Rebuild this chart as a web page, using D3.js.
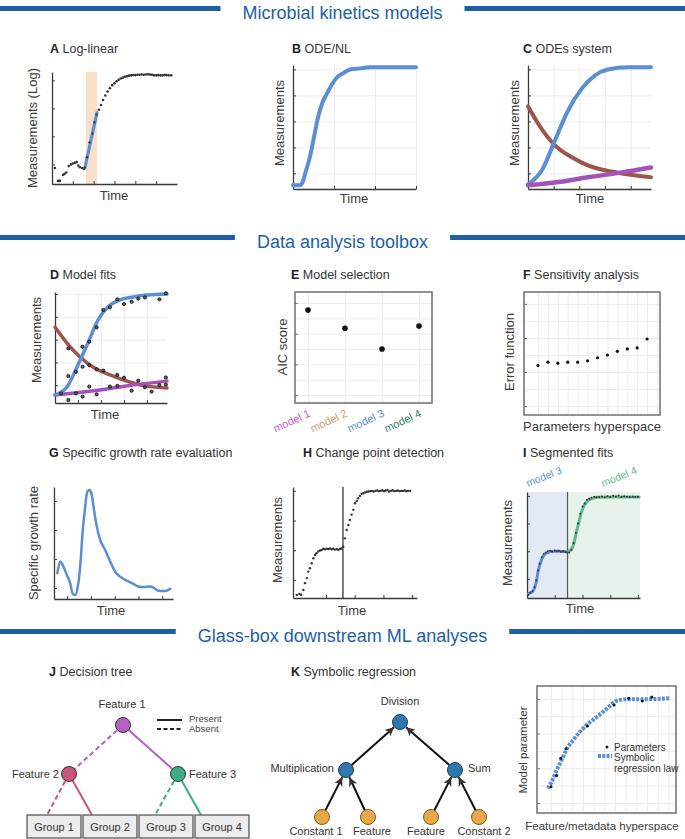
<!DOCTYPE html>
<html><head><meta charset="utf-8">
<script src="https://cdn.jsdelivr.net/npm/d3@7"></script>
<style>
body{margin:0;background:#fff}
svg{display:block}
text{font-family:"Liberation Sans",Arial,Helvetica,sans-serif}
</style>
</head><body>
<svg id="c" width="685" height="839"></svg>
<script>
// ---------------- DATA ----------------
const headerTitles = ["Microbial kinetics models", "Data analysis toolbox", "Glass-box downstream ML analyses"];

// A: log-linear (x = time, y = log measurement)
const A_points = [[0.14,-0.13],[0.29,-0.59],[0.38,-0.59],[0.53,-0.38],[0.6,-0.34],[0.69,-0.29],[0.8,-0.06],[0.91,0.0],[1.0,0.03],[1.1,0.06],[1.18,0.08],[1.26,-0.04],[1.34,-0.1],[1.45,-0.13],[1.53,-0.16],[1.58,-0.12],[1.68,0.25],[1.81,0.78],[1.94,1.1],[2.04,1.5],[2.14,1.78],[2.25,1.95],[2.35,2.12],[2.45,2.3],[2.56,2.46],[2.67,2.6],[2.78,2.72],[2.89,2.83],[3.0,2.9],[3.1,2.97],[3.2,3.02],[3.3,3.07],[3.4,3.1],[3.5,3.13],[3.6,3.15],[3.7,3.17],[3.8,3.18],[3.9,3.19],[4.0,3.19],[4.1,3.2],[4.2,3.2],[4.3,3.21],[4.4,3.2],[4.5,3.21],[4.6,3.22],[4.7,3.21],[4.8,3.2],[4.9,3.18],[5.0,3.18],[5.1,3.19],[5.2,3.18],[5.3,3.18],[5.4,3.19],[5.5,3.19],[5.6,3.18],[5.72,3.18]];
const A_fit = [[1.58,-0.12],[2.16,1.85]];
const A_window = [1.63, 2.16];

// B: ODE/NL growth curve
const B_time = [0,0.17,0.22,0.32,0.41,0.51,0.61,0.71,0.83,0.95,1.07,1.22,1.39,1.63,1.88,2.37,3];
const B_value = [0.54,0.54,0.62,1.12,1.62,2.38,3.15,3.69,4.08,4.42,4.69,4.85,5.0,5.04,5.08,5.08,5.08];

// C: ODE system (three species)
const C_blue = [[0,0.58],[0.54,1.12],[1.05,2.27],[1.56,3.42],[2.1,4.27],[2.61,4.77],[3.11,5.0],[3.89,5.08],[4.79,5.08]];
const C_brown = [[0,3.58],[0.39,2.92],[1.05,2.08],[1.71,1.62],[2.33,1.31],[2.99,1.12],[3.66,1.0],[4.79,0.85]];
const C_purple = [[0,0.54],[1.05,0.65],[2.33,0.85],[3.66,1.04],[4.79,1.23]];

// D: model fits
const D_blueFit = [[0,0.57],[0.52,0.92],[1.0,1.89],[1.43,2.85],[1.87,3.86],[2.3,4.43],[2.83,4.74],[3.39,4.87],[4.0,4.96],[4.87,5.0]];
const D_brownFit = [[0,3.55],[0.52,2.85],[1.09,2.24],[1.65,1.8],[2.39,1.45],[3.39,1.1],[4.0,0.96],[4.87,0.88]];
const D_purpleFit = [[0,0.57],[1.96,0.79],[3.39,1.01],[4.87,1.18]];
const D_blueObs = [[0.26,0.64],[0.58,1.4],[0.91,1.59],[1.19,2.69],[1.49,2.91],[1.81,3.54],[2.1,4.3],[2.39,4.42],[2.71,4.77],[3.0,4.56],[3.33,4.66],[3.62,4.8],[3.91,4.85],[4.54,4.77],[4.82,5.03]];
const D_brownObs = [[0.58,2.62],[1.2,1.81],[1.49,1.88],[1.81,1.7],[2.1,1.64],[2.71,1.45],[3.0,1.33],[3.62,1.2],[3.91,0.91]];
const D_purpleObs = [[0.58,0.35],[0.91,0.64],[1.2,0.5],[1.49,0.94],[1.81,0.6],[2.39,0.94],[2.71,0.97],[3.33,0.76],[4.2,0.72],[4.54,1.01],[4.82,1.34],[4.82,1.03]];

// E: model selection
const E_models = ["model 1","model 2","model 3","model 4"];
const E_aic = [3.77, 3.18, 2.5, 3.25];
const E_colors = ["#c45cc6","#c9a070","#5b8fd4","#2e7b6b"];

// F: sensitivity analysis
const F_param = [1,2,3,4,5,6,7,8,9,10,11,12];
const F_error = [2.19,2.29,2.26,2.29,2.29,2.33,2.42,2.5,2.61,2.68,2.71,2.97];

// G: specific growth rate
const G_time = [0.59,0.71,0.85,0.99,1.13,1.24,1.34,1.45,1.55,1.66,1.76,1.85,1.94,2.04,2.13,2.25,2.39,2.6,2.81,3.02,3.23,3.51,3.79,4.0,4.21,4.49,4.63,4.77,4.91,5.12,5.33];
const G_rate = [1.51,1.91,1.73,1.45,1.16,0.79,0.76,1.05,1.73,3.0,3.8,4.32,4.38,4.21,3.69,3.11,2.66,2.31,1.91,1.56,1.39,1.25,1.14,1.05,1.03,1.05,1.01,0.93,0.9,0.9,0.97];

// H: change point detection
const H_points = [[-0.02,0.49],[0.07,0.53],[0.13,0.5],[0.21,0.66],[0.27,0.89],[0.33,1.06],[0.38,1.28],[0.44,1.39],[0.5,1.56],[0.56,1.73],[0.62,1.84],[0.67,1.9],[0.73,1.96],[0.79,1.99],[0.85,2.01],[0.91,2.05],[0.96,2.03],[1.02,2.05],[1.08,2.04],[1.14,2.06],[1.2,2.03],[1.25,2.05],[1.31,2.02],[1.37,2.04],[1.43,2.01],[1.49,2.05],[1.54,2.06],[1.6,2.12],[1.66,2.4],[1.72,2.68],[1.78,2.85],[1.83,3.02],[1.89,3.2],[1.95,3.36],[2.01,3.58],[2.07,3.66],[2.12,3.75],[2.18,3.83],[2.24,3.9],[2.3,3.92],[2.36,3.95],[2.42,3.97],[2.48,3.98],[2.54,3.99],[2.6,4.0],[2.66,3.98],[2.72,4.0],[2.78,4.01],[2.84,3.99],[2.9,4.0],[2.96,4.02],[3.02,3.99],[3.08,4.01],[3.14,4.03],[3.2,3.98],[3.26,4.0],[3.32,4.02],[3.38,3.99],[3.44,4.0],[3.5,4.01],[3.56,3.99],[3.62,4.0],[3.68,4.0],[3.74,4.01],[3.8,3.99],[3.86,4.0],[3.93,4.0]];
const H_changePoint = 1.59;

// I: segmented fits
const I_seg1Fit = [[0.05,0.46],[0.14,0.51],[0.23,0.58],[0.29,0.72],[0.35,0.97],[0.4,1.27],[0.46,1.51],[0.55,1.75],[0.64,1.89],[0.76,1.96],[0.88,1.99],[1.12,2.0],[1.46,1.98]];
const I_seg2Fit = [[1.46,1.98],[1.6,2.07],[1.69,2.29],[1.77,2.65],[1.86,3.01],[1.95,3.37],[2.07,3.67],[2.19,3.83],[2.37,3.91],[2.55,3.95],[2.9,3.96],[3.38,3.96],[4.04,3.96]];
const I_seg1Obs = [[0.05,0.42],[0.12,0.5],[0.2,0.55],[0.27,0.7],[0.33,0.95],[0.4,1.3],[0.46,1.55],[0.53,1.78],[0.6,1.9],[0.68,1.95],[0.75,2.0],[0.83,2.02],[0.9,1.99],[1.0,2.03],[1.08,2.0],[1.15,2.02],[1.22,1.98],[1.3,2.0],[1.38,1.97],[1.45,1.95]];
const I_seg2Obs = [[1.52,1.95],[1.6,2.05],[1.68,2.3],[1.76,2.66],[1.84,3.0],[1.92,3.35],[2.0,3.62],[2.08,3.72],[2.16,3.86],[2.24,3.9],[2.32,3.93],[2.42,3.97],[2.5,3.95],[2.6,3.96],[2.7,3.98],[2.8,3.95],[2.9,3.99],[3.0,3.96],[3.1,4.0],[3.2,3.98],[3.3,4.01],[3.4,3.96],[3.5,3.99],[3.6,3.97],[3.7,3.96],[3.8,3.97],[3.9,3.96],[4.0,3.97]];
const I_split = 1.46;
const I_labels = ["model 3","model 4"];

// J: decision tree
const J_features = ["Feature 1","Feature 2","Feature 3"];
const J_groups = ["Group 1","Group 2","Group 3","Group 4"];
const J_legend = ["Present","Absent"];

// K: symbolic regression
const K_operators = ["Division","Multiplication","Sum"];
const K_leaves = ["Constant 1","Feature","Feature","Constant 2"];

// L: symbolic regression law
const L_lawX = [-0.3,0.07,0.54,1.01,1.48,2.1,2.72,3.35,4.13,4.9,5.53,5.84,6.46,7.4,8.96,11.14];
const L_lawY = [0.42,0.61,0.95,1.24,1.55,1.82,2.05,2.25,2.44,2.63,2.8,2.89,2.97,2.99,2.99,3.02];
const L_paramX = [0.01,0.54,0.92,1.41,3.41,5.9,7.28,8.55,9.43];
const L_paramY = [0.47,0.79,1.29,1.56,2.22,2.82,3.02,2.94,3.05];
const L_legend = ["Parameters","Symbolic","regression law"];

// ---------------- DRAWING ----------------
const svg = d3.select("#c");
const BLUE = "#5b8fd4", BROWN = "#9c544b", PURPLE = "#a552b8", GREEN = "#5db98c";
const AX = "#3a3a3a";

function header(title, baseline) {
  const t = svg.append("text").attr("x", 342.5).attr("y", baseline).attr("text-anchor", "middle")
    .attr("font-size", 18).attr("fill", "#1d5fa6").text(title);
  const w = t.node().getComputedTextLength();
  const gap = 22;
  svg.append("rect").attr("x", 0).attr("y", baseline - 13).attr("width", 342.5 - w/2 - gap).attr("height", 5).attr("fill", "#1d5fa6");
  svg.append("rect").attr("x", 342.5 + w/2 + gap).attr("y", baseline - 13).attr("width", 685 - (342.5 + w/2 + gap)).attr("height", 5).attr("fill", "#1d5fa6");
}
header(headerTitles[0], 19);
header(headerTitles[1], 248);
header(headerTitles[2], 642);

function title(x, y, letter, txt) {
  const t = svg.append("text").attr("x", x).attr("y", y).attr("font-size", 12.5).attr("fill", "#222");
  t.append("tspan").attr("font-weight", "bold").text(letter);
  t.append("tspan").attr("fill", "#333").text(" " + txt);
}
function xlabel(cx, y, txt, size) {
  svg.append("text").attr("x", cx).attr("y", y).attr("text-anchor", "middle").attr("font-size", size || 13).attr("fill", "#3a3a3a").text(txt);
}
function ylabel(x, cy, txt, size) {
  svg.append("text").attr("transform", `translate(${x},${cy}) rotate(-90)`).attr("text-anchor", "middle")
    .attr("font-size", size || 13).attr("fill", "#3a3a3a").text(txt);
}

function panel(o) {
  const g = svg.append("g");
  const x = o.x || d3.scaleLinear().domain(o.xd).range([o.l, o.r]);
  const y = d3.scaleLinear().domain(o.yd).range([o.b, o.t]);
  const gridStyle = (s, c) => { s.select(".domain").remove(); s.selectAll("line").attr("stroke", c).attr("stroke-width", 1); };
  if (o.gridX) g.append("g").attr("transform", `translate(0,${o.b})`)
    .call(d3.axisBottom(x).tickValues(o.gridX).tickSize(-(o.b - o.t)).tickFormat(""))
    .call(s => gridStyle(s, o.gridColor || "#ececec"));
  if (o.gridY) g.append("g").attr("transform", `translate(${o.l},0)`)
    .call(d3.axisLeft(y).tickValues(o.gridY).tickSize(-(o.r - o.l)).tickFormat(""))
    .call(s => gridStyle(s, o.gridColor || "#ececec"));
  if (o.bg) o.bg(g, x, y);
  if (o.box) {
    g.append("rect").attr("x", o.l).attr("y", o.t).attr("width", o.r - o.l).attr("height", o.b - o.t)
      .attr("fill", "none").attr("stroke", "#6e6e6e").attr("stroke-width", 1.5);
    g.append("g").attr("transform", `translate(${o.l},0)`)
      .call(d3.axisLeft(y).tickValues(o.yt).tickSize(-3).tickFormat(""))
      .call(s => { s.select(".domain").remove(); s.selectAll("line").attr("stroke", "#777"); });
  } else {
    const ax = (s) => { s.select(".domain").attr("stroke", AX).attr("stroke-width", 1.3); s.selectAll("line").attr("stroke", AX).attr("stroke-width", 1); };
    g.append("g").attr("transform", `translate(0,${o.b})`)
      .call(d3.axisBottom(x).tickValues(o.xt).tickSize(-3).tickSizeOuter(0).tickFormat("")).call(ax);
    g.append("g").attr("transform", `translate(${o.l},0)`)
      .call(d3.axisLeft(y).tickValues(o.yt).tickSize(-3).tickSizeOuter(0).tickFormat("")).call(ax);
  }
  return { g, x, y };
}
function curve(p, data, color, w, dash) {
  const line = d3.line().x(d => p.x(d[0])).y(d => p.y(d[1])).curve(d3.curveMonotoneX);
  const path = p.g.append("path").datum(data).attr("d", line).attr("fill", "none").attr("stroke", color)
    .attr("stroke-width", w).attr("stroke-linecap", "round").attr("stroke-linejoin", "round");
  if (dash) path.attr("stroke-dasharray", dash).attr("stroke-linecap", "butt");
  return path;
}
function dots(p, data, r, color, stroke) {
  p.g.append("g").selectAll("circle").data(data).join("circle")
    .attr("cx", d => p.x(d[0])).attr("cy", d => p.y(d[1])).attr("r", r)
    .attr("fill", color).attr("stroke", stroke || "none").attr("stroke-width", 0.8);
}

// ---- A ----
title(50, 53, "A", "Log-linear");
const pA = panel({ l: 52, r: 177, t: 72, b: 184, xd: [0, 6], yd: [-0.7, 3.3], xt: [1, 2, 3, 4, 5], yt: [0, 1, 2, 3],
  bg: (g, x, y) => g.append("rect").attr("x", x(A_window[0])).attr("width", x(A_window[1]) - x(A_window[0]))
    .attr("y", y(3.3)).attr("height", y(-0.7) - y(3.3)).attr("fill", "#f8dfc8") });
dots(pA, A_points, 1.3, "#333");
pA.g.append("line").attr("x1", pA.x(A_fit[0][0])).attr("y1", pA.y(A_fit[0][1])).attr("x2", pA.x(A_fit[1][0])).attr("y2", pA.y(A_fit[1][1]))
  .attr("stroke", BLUE).attr("stroke-width", 3.2).attr("stroke-linecap", "round");
dots(pA, A_points.filter(d => d[0] >= 1.58 && d[0] <= 2.16), 1.1, "#333");
ylabel(37, 128, "Measurements (Log)");
xlabel(114, 200, "Time");

// ---- B ----
title(292, 53, "B", "ODE/NL");
const pB = panel({ l: 293, r: 416, t: 65, b: 189, xd: [0, 3], yd: [0.4, 5.17], xt: [1, 2, 3], yt: [1, 2, 3, 4, 5], gridX: [1, 2, 3], gridY: [1, 2, 3, 4, 5] });
curve(pB, B_time.map((t, i) => [t, B_value[i]]), BLUE, 4);
ylabel(284, 123, "Measurements");
xlabel(354, 203, "Time");

// ---- C ----
title(523, 53, "C", "ODEs system");
const pC = panel({ l: 528, r: 651, t: 65, b: 189, xd: [0, 4.79], yd: [0.4, 5.17], xt: [1, 2, 3, 4], yt: [1, 2, 3, 4, 5], gridX: [1, 2, 3, 4], gridY: [1, 2, 3, 4, 5] });
curve(pC, C_brown, BROWN, 4);
curve(pC, C_blue, BLUE, 4);
curve(pC, C_purple, PURPLE, 4.5);
ylabel(519, 123, "Measurements");
xlabel(590, 203, "Time");

// ---- D ----
title(50, 279, "D", "Model fits");
const pD = panel({ l: 55, r: 167, t: 292, b: 403, xd: [0, 4.87], yd: [0.22, 5.09], xt: [1, 2, 3, 4], yt: [1, 2, 3, 4, 5], gridX: [1, 2, 3, 4], gridY: [1, 2, 3, 4, 5] });
curve(pD, D_brownFit, BROWN, 3.5);
curve(pD, D_purpleFit, PURPLE, 3.5);
curve(pD, D_blueFit, BLUE, 3.5);
dots(pD, D_blueObs.concat(D_brownObs, D_purpleObs), 1.6, "#555", "#111");
ylabel(41, 340, "Measurements");
xlabel(105, 419, "Time");

// ---- E ----
title(291, 279, "E", "Model selection");
const xE = d3.scalePoint().domain(E_models).range([308, 419]);
const pE = panel({ x: xE, l: 295, r: 432, t: 292, b: 403, yd: [0.74, 4.36], yt: [1, 2, 3, 4], gridX: E_models, gridY: [1, 1.5, 2, 2.5, 3, 3.5, 4], box: true });
dots(pE, E_models.map((m, i) => [m, E_aic[i]]), 2.8, "#111");
pE.g.append("g").selectAll("text").data(E_models).join("text")
  .attr("transform", d => `translate(${xE(d) + 3},${416}) rotate(-25)`).attr("text-anchor", "end")
  .attr("font-size", 11).attr("fill", (d, i) => E_colors[i]).text(d => d);
ylabel(287, 347, "AIC score");

// ---- F ----
title(523, 279, "F", "Sensitivity analysis");
const pF = panel({ l: 524, r: 660, t: 292, b: 415, xd: [-0.41, 13.3], yd: [0.74, 4.35], yt: [1, 2, 3, 4], gridX: d3.range(1, 14), gridY: [1, 1.5, 2, 2.5, 3, 3.5, 4], box: true });
dots(pF, F_param.map((p, i) => [p, F_error[i]]), 1.6, "#111");
ylabel(514, 352, "Error function");
xlabel(592, 431, "Parameters hyperspace");

// ---- G ----
title(49, 457, "G", "Specific growth rate evaluation");
const pG = panel({ l: 54, r: 173, t: 487, b: 599, xd: [0.45, 5.45], yd: [0.62, 4.48], xt: [1, 2, 3, 4, 5], yt: [1, 2, 3, 4] });
curve(pG, G_time.map((t, i) => [t, G_rate[i]]), BLUE, 2.5);
ylabel(38, 543, "Specific growth rate");
xlabel(111, 615, "Time");

// ---- H ----
title(303, 457, "H", "Change point detection");
const pH = panel({ l: 293, r: 417, t: 487, b: 598, xd: [-0.15, 4.17], yd: [0.39, 4.13], xt: [1, 2, 3, 4], yt: [1, 2, 3, 4] });
pH.g.append("line").attr("x1", pH.x(H_changePoint)).attr("x2", pH.x(H_changePoint)).attr("y1", 487).attr("y2", 598)
  .attr("stroke", "#222").attr("stroke-width", 1.2);
dots(pH, H_points, 1.2, "#333");
ylabel(282, 540, "Measurements");
xlabel(352, 615, "Time");

// ---- I ----
title(523, 457, "I", "Segmented fits");
const pI = panel({ l: 527, r: 640, t: 492, b: 598, xd: [0, 4.07], yd: [0.31, 4.14], xt: [1, 2, 3, 4], yt: [1, 2, 3, 4],
  bg: (g, x, y) => {
    g.append("rect").attr("x", x(0)).attr("width", x(I_split) - x(0)).attr("y", y(4.14)).attr("height", y(0.31) - y(4.14)).attr("fill", "#e3eaf6");
    g.append("rect").attr("x", x(I_split)).attr("width", x(4.07) - x(I_split)).attr("y", y(4.14)).attr("height", y(0.31) - y(4.14)).attr("fill", "#e6f2ea");
  } });
pI.g.append("line").attr("x1", pI.x(I_split)).attr("x2", pI.x(I_split)).attr("y1", 492).attr("y2", 598).attr("stroke", "#555").attr("stroke-width", 1.2);
curve(pI, I_seg1Fit, BLUE, 3);
curve(pI, I_seg2Fit, GREEN, 3);
dots(pI, I_seg1Obs.concat(I_seg2Obs), 1.0, "#333");
[[I_labels[0], 0.0, BLUE], [I_labels[1], 2.7, GREEN]].forEach(([t, xv, c]) => {
  svg.append("text").attr("transform", `translate(${pI.x(xv) + 1},${487}) rotate(-22)`).attr("font-size", 10.5)
    .attr("fill", c).text(t);
});
ylabel(512, 543, "Measurements");
xlabel(580, 613, "Time");

// ---- J: decision tree ----
title(49, 676, "J", "Decision tree");
const jNodes = [
  { name: J_features[0], x: 123, y: 725, c: "#b65fc4" },
  { name: J_features[1], x: 69, y: 774, c: "#c9557a" },
  { name: J_features[2], x: 178, y: 774, c: "#3fac86" }
];
const jBoxes = J_groups.map((g, i) => ({ name: g, x: 27 + i * 56, w: 54 }));
const jEdges = [
  { a: [123, 725], b: [69, 774], c: jNodes[0].c, dashed: true },
  { a: [123, 725], b: [178, 774], c: jNodes[0].c, dashed: false },
  { a: [69, 774], b: [47, 815], c: jNodes[1].c, dashed: true },
  { a: [69, 774], b: [92, 815], c: jNodes[1].c, dashed: false },
  { a: [178, 774], b: [155, 815], c: jNodes[2].c, dashed: true },
  { a: [178, 774], b: [201, 815], c: jNodes[2].c, dashed: false }
];
svg.append("g").selectAll("line").data(jEdges).join("line")
  .attr("x1", d => d.a[0]).attr("y1", d => d.a[1]).attr("x2", d => d.b[0]).attr("y2", d => d.b[1])
  .attr("stroke", d => d.c).attr("stroke-width", 2).attr("stroke-dasharray", d => d.dashed ? "5,3" : null);
const jb = svg.append("g").selectAll("g").data(jBoxes).join("g");
jb.append("rect").attr("x", d => d.x).attr("y", 815).attr("width", d => d.w).attr("height", 23)
  .attr("fill", "#ececec").attr("stroke", "#5a5a5a").attr("stroke-width", 1.3);
jb.append("text").attr("x", d => d.x + d.w / 2).attr("y", 831).attr("text-anchor", "middle").attr("font-size", 11).attr("fill", "#333").text(d => d.name);
svg.append("g").selectAll("circle").data(jNodes).join("circle").attr("cx", d => d.x).attr("cy", d => d.y).attr("r", 7.5)
  .attr("fill", d => d.c).attr("stroke", "#333").attr("stroke-width", 1);
svg.append("text").attr("x", 122).attr("y", 708).attr("text-anchor", "middle").attr("font-size", 11).attr("fill", "#333").text(J_features[0]);
svg.append("text").attr("x", 59).attr("y", 778).attr("text-anchor", "end").attr("font-size", 11).attr("fill", "#333").text(J_features[1]);
svg.append("text").attr("x", 189).attr("y", 778).attr("font-size", 11).attr("fill", "#333").text(J_features[2]);
svg.append("line").attr("x1", 157).attr("x2", 182).attr("y1", 720).attr("y2", 720).attr("stroke", "#222").attr("stroke-width", 2);
svg.append("line").attr("x1", 157).attr("x2", 182).attr("y1", 729).attr("y2", 729).attr("stroke", "#222").attr("stroke-width", 2).attr("stroke-dasharray", "4,2.5");
svg.append("text").attr("x", 189).attr("y", 722).attr("font-size", 9.5).attr("fill", "#444").text(J_legend[0]);
svg.append("text").attr("x", 189).attr("y", 732).attr("font-size", 9.5).attr("fill", "#444").text(J_legend[1]);

// ---- K: symbolic regression ----
title(291, 676, "K", "Symbolic regression");
svg.append("defs").append("marker").attr("id", "arr").attr("viewBox", "0 -5 10 10").attr("refX", 10).attr("refY", 0)
  .attr("markerWidth", 9).attr("markerHeight", 9).attr("markerUnits", "userSpaceOnUse").attr("orient", "auto")
  .append("path").attr("d", "M0,-5L10,0L0,5L3,0Z").attr("fill", "#333");
const kOps = [
  { name: K_operators[0], x: 400, y: 722 },
  { name: K_operators[1], x: 346, y: 770 },
  { name: K_operators[2], x: 455, y: 770 }
];
const kLeaves = K_leaves.map((n, i) => ({ name: n, x: [322, 368, 431, 479][i], y: 817, lx: [316, 372, 426, 484][i] }));
const kEdges = [[kOps[1], kOps[0]], [kOps[2], kOps[0]], [kLeaves[0], kOps[1]], [kLeaves[1], kOps[1]], [kLeaves[2], kOps[2]], [kLeaves[3], kOps[2]]];
const R = 7.5;
svg.append("g").selectAll("line").data(kEdges).join("line")
  .each(function ([c, p]) {
    const dx = p.x - c.x, dy = p.y - c.y, L = Math.hypot(dx, dy);
    d3.select(this).attr("x1", c.x + dx / L * R).attr("y1", c.y + dy / L * R)
      .attr("x2", p.x - dx / L * (R + 0.5)).attr("y2", p.y - dy / L * (R + 0.5));
  })
  .attr("stroke", "#111").attr("stroke-width", 2).attr("marker-end", "url(#arr)");
svg.append("g").selectAll("circle").data(kOps).join("circle").attr("cx", d => d.x).attr("cy", d => d.y).attr("r", R)
  .attr("fill", "#2f78ad").attr("stroke", "#1c3c58").attr("stroke-width", 1);
svg.append("g").selectAll("circle").data(kLeaves).join("circle").attr("cx", d => d.x).attr("cy", d => d.y).attr("r", R)
  .attr("fill", "#e8a848").attr("stroke", "#7a5a22").attr("stroke-width", 1);
svg.append("text").attr("x", 400).attr("y", 705).attr("text-anchor", "middle").attr("font-size", 11).attr("fill", "#333").text(K_operators[0]);
svg.append("text").attr("x", 334).attr("y", 772).attr("text-anchor", "end").attr("font-size", 11).attr("fill", "#333").text(K_operators[1]);
svg.append("text").attr("x", 468).attr("y", 772).attr("font-size", 11).attr("fill", "#333").text(K_operators[2]);
svg.append("g").selectAll("text").data(kLeaves).join("text").attr("x", d => d.lx).attr("y", 835).attr("text-anchor", "middle")
  .attr("font-size", 11).attr("fill", "#333").text(d => d.name);

// ---- L: symbolic law ----
const pL = panel({ l: 537, r: 676, t: 686, b: 813, xd: [-1.3, 11.7], yd: [-0.29, 3.37], yt: [0, 1, 2, 3], gridX: d3.range(0, 12), gridY: [0, 0.5, 1, 1.5, 2, 2.5, 3], box: true });
curve(pL, L_lawX.map((v, i) => [v, L_lawY[i]]), BLUE, 4, "3,1.3");
dots(pL, L_paramX.map((v, i) => [v, L_paramY[i]]), 1.5, "#111");
svg.append("circle").attr("cx", 607).attr("cy", 747).attr("r", 1.5).attr("fill", "#111");
svg.append("line").attr("x1", 598).attr("x2", 612).attr("y1", 756).attr("y2", 756).attr("stroke", BLUE).attr("stroke-width", 4).attr("stroke-dasharray", "3,1.3");
svg.append("text").attr("x", 614).attr("y", 750.5).attr("font-size", 10).attr("fill", "#333").text(L_legend[0]);
svg.append("text").attr("x", 614).attr("y", 761).attr("font-size", 10).attr("fill", "#333").text(L_legend[1]);
svg.append("text").attr("x", 614).attr("y", 772).attr("font-size", 10).attr("fill", "#333").text(L_legend[2]);
ylabel(527, 750, "Model parameter", 11.5);
xlabel(602, 830, "Feature/metadata hyperspace", 11.5);
</script>
</body></html>
